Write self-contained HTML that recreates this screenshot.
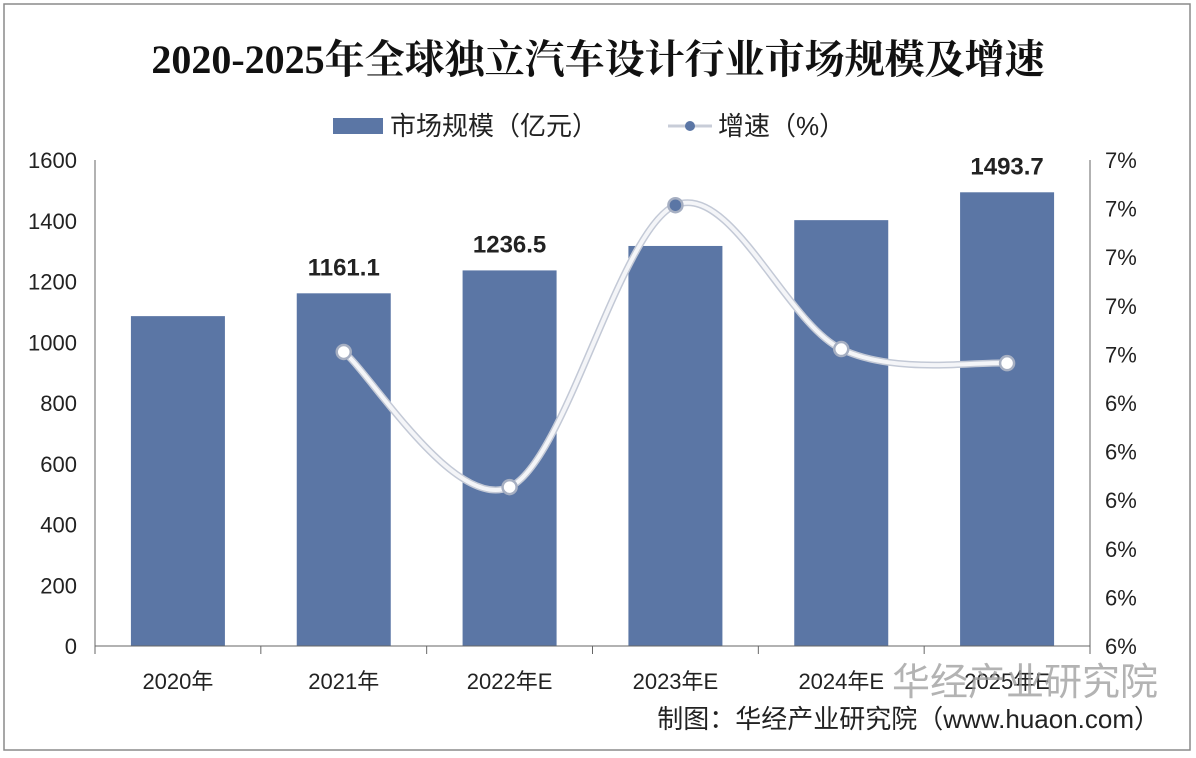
<!DOCTYPE html>
<html><head><meta charset="utf-8"><style>
body{margin:0;background:#fff;}
svg{display:block;font-family:"Liberation Sans","Noto Sans CJK SC",sans-serif;}
</style></head><body>
<svg width="1196" height="758" viewBox="0 0 1196 758">
<rect x="4" y="4" width="1186" height="746" fill="#fff" stroke="#8a8a8a" stroke-width="1.5"/>
<text x="598" y="73" text-anchor="middle" font-family="Liberation Serif,'Noto Serif CJK SC',serif" font-weight="bold" font-size="40" fill="#111">2020-2025年全球独立汽车设计行业市场规模及增速</text>
<g>
<rect x="333" y="118" width="50" height="16" fill="#5b76a5"/>
<text x="390" y="135" font-size="26" fill="#222">市场规模（亿元）</text>
<line x1="668" y1="126" x2="712" y2="126" stroke="#c8cdd8" stroke-width="3"/>
<circle cx="690" cy="126" r="5" fill="#5b76a5"/>
<text x="718" y="135" font-size="26" fill="#222">增速（%）</text>
</g>
<g id="plot"></g>
<text x="1158" y="695" text-anchor="end" font-size="38" fill="#9a9a9a" opacity="0.75">华经产业研究院</text>
<text x="1160" y="728" text-anchor="end" font-size="26" fill="#222">制图：华经产业研究院（www.huaon.com）</text>
</svg>
<script>
const categories=["2020年","2021年","2022年E","2023年E","2024年E","2025年E"];
const marketSize=[1086,1161.1,1236.5,1317,1402,1493.7];
const sizeLabels=["","1161.1","1236.5","","","1493.7"];
const growthCats=[1,2,3,4,5];
const growth=[6.605,6.327,6.907,6.611,6.582];
const leftTicks=[0,200,400,600,800,1000,1200,1400,1600];
const rightTicks=[6.0,6.1,6.2,6.3,6.4,6.5,6.6,6.7,6.8,6.9,7.0];
const rightTickLabels=["6%","6%","6%","6%","6%","6%","7%","7%","7%","7%","7%"];
const NS="http://www.w3.org/2000/svg";
const g=document.getElementById('plot');
const X0=95,X1=1090,Y0=646,Y1=160;
const bw=(X1-X0)/categories.length;
const xc=i=>X0+bw*(i+0.5);
const yL=v=>Y0-(v/1600)*(Y0-Y1);
const yR=v=>Y0-((v-6)/1)*(Y0-Y1);
function mk(t,a){const e=document.createElementNS(NS,t);for(const k in a)e.setAttribute(k,a[k]);g.appendChild(e);return e;}
leftTicks.forEach(v=>{
 const t=mk('text',{x:X0-18,y:yL(v)+8,'text-anchor':'end','font-size':22,fill:'#222'});t.textContent=v;
 
 
});
rightTicks.forEach((v,i)=>{
 const t=mk('text',{x:1105,y:yR(v)+8,'font-size':22,fill:'#222'});t.textContent=rightTickLabels[i];
 
 
});
marketSize.forEach((v,i)=>{
 const r=mk('rect',{x:xc(i)-47,y:yL(v),width:94,height:Y0-yL(v),fill:'#5b76a5'});
 
 
 if(sizeLabels[i]){const t=mk('text',{x:xc(i),y:yL(v)-18,'text-anchor':'middle','font-size':24,'font-weight':'bold',fill:'#222'});t.textContent=sizeLabels[i];
 
 }
 const c=mk('text',{x:xc(i),y:689,'text-anchor':'middle','font-size':22,fill:'#222'});c.textContent=categories[i];
 
 
});
const ax=mk('path',{d:`M${X0},${Y1} V${Y0} H${X1} V${Y1}`,fill:'none',stroke:'#666','stroke-width':1});


for(let i=0;i<=categories.length;i++){const l=mk('line',{x1:X0+bw*i,y1:Y0,x2:X0+bw*i,y2:Y0+8,stroke:'#666'});
 
 }
const pts=growth.map((v,i)=>[xc(growthCats[i]),yR(v)]);
let d=`M${pts[0][0]},${pts[0][1]}`;
for(let i=0;i<pts.length-1;i++){const p0=pts[Math.max(0,i-1)],p1=pts[i],p2=pts[i+1],p3=pts[Math.min(pts.length-1,i+2)];
 const c1=[p1[0]+(p2[0]-p0[0])/6,p1[1]+(p2[1]-p0[1])/6],c2=[p2[0]-(p3[0]-p1[0])/6,p2[1]-(p3[1]-p1[1])/6];
 d+=` C${c1[0]},${c1[1]} ${c2[0]},${c2[1]} ${p2[0]},${p2[1]}`;}
const l1=mk('path',{d,fill:'none',stroke:'#c3c9d6','stroke-width':7});


const l2=mk('path',{d,fill:'none',stroke:'#f4f5f8','stroke-width':4});


const maxI=growth.indexOf(Math.max(...growth));
pts.forEach((p,i)=>{const c=mk('circle',{cx:p[0],cy:p[1],r:7,fill:i===maxI?'#5b76a5':'#fff',stroke:'#a6afc2','stroke-width':2.5});
 
 });
</script>
</body></html>
